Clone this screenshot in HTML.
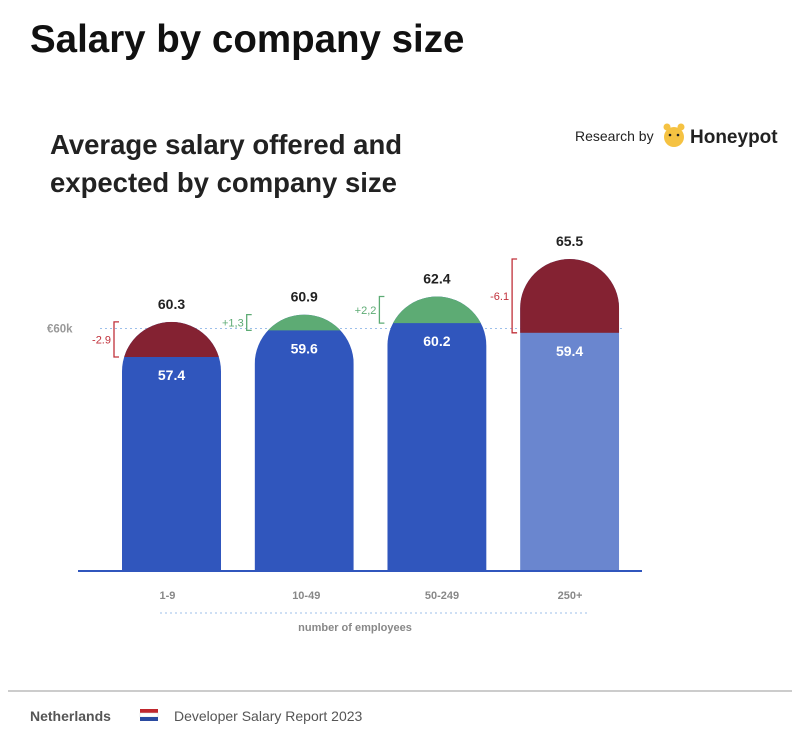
<!DOCTYPE html>
<html><head><meta charset="utf-8"><style>
body{margin:0;width:796px;height:749px;background:#fff;font-family:"Liberation Sans",sans-serif;overflow:hidden}
</style></head><body>
<svg width="796" height="749" xmlns="http://www.w3.org/2000/svg">
<text x="30" y="52" font-size="38.5" font-weight="bold" fill="#111">Salary by company size</text>
<text x="50" y="154" font-size="27.5" font-weight="bold" fill="#222">Average salary offered and</text>
<text x="50" y="192" font-size="27.5" font-weight="bold" fill="#222">expected by company size</text>
<g>
<text x="575" y="141" font-size="14" fill="#222">Research by</text>
<circle cx="674" cy="137" r="10" fill="#f5c242"/>
<circle cx="667" cy="127" r="3.5" fill="#f5c242"/><circle cx="681" cy="127" r="3.5" fill="#f5c242"/>
<circle cx="670" cy="135" r="1.3" fill="#222"/><circle cx="678" cy="135" r="1.3" fill="#222"/>
<text x="690" y="143" font-size="19" font-weight="bold" fill="#222">Honeypot</text>
</g>
<g id="plot"></g>
<line x1="8" y1="691" x2="792" y2="691" stroke="#ccc" stroke-width="2"/>
<text x="30" y="721" font-size="14" font-weight="bold" fill="#555">Netherlands</text>
<g>
<rect x="140" y="709" width="18" height="4" fill="#c0272d"/><rect x="140" y="713" width="18" height="4" fill="#fff" stroke="#ddd" stroke-width="0.5"/><rect x="140" y="717" width="18" height="4" fill="#2a4aa0"/>
</g>
<text x="174" y="721" font-size="14" fill="#555">Developer Salary Report 2023</text>
</svg>
<script>
const categories=["1-9","10-49","50-249","250+"];
const offered=[57.4,59.6,60.2,59.4];
const expected=[60.3,60.9,62.4,65.5];
const diffLabels=["-2.9","+1,3","+2,2","-6.1"];
const NS="http://www.w3.org/2000/svg";
const g=document.getElementById('plot');
const base=571, bw=99, r=49.5;
const y=v=>357-(v-57.4)*12.1;
const x=i=>122+i*132.7;
function el(t,a,p){const e=document.createElementNS(NS,t);for(const k in a)e.setAttribute(k,a[k]);(p||g).appendChild(e);return e;}
const gl=el('line',{x1:100,x2:625,y1:y(60)+3,y2:y(60)+3,stroke:'#9dbfea','stroke-dasharray':'2,3'});


const gt=el('text',{x:47,y:y(60)+7,'font-size':11.5,'font-weight':'bold',fill:'#999'});gt.textContent='€60k';


const defs=el('defs',{});
categories.forEach((c,i)=>{
 const x0=x(i), top=y(expected[i]), mid=y(offered[i]);
 const pos=diffLabels[i].trim().charAt(0)==='+';
 const hi=Math.min(top,mid), lo=Math.max(top,mid);
 const cp=el('clipPath',{id:'c'+i},defs);
 el('path',{d:`M${x0} ${base}V${hi+r}A${r} ${r} 0 0 1 ${x0+bw} ${hi+r}V${base}Z`},cp);
 const bg=el('g',{'clip-path':`url(#c${i})`});
 
 
 el('rect',{x:x0,y:hi,width:bw,height:base-hi,fill:i==3?'#6a86cf':'#3056bd'},bg);
 el('rect',{x:x0,y:hi,width:bw,height:lo-hi,fill:pos?'#5dab74':'#842232'},bg);
 const vt=el('text',{x:x0+bw/2,y:mid+23,'text-anchor':'middle','font-size':14,'font-weight':'bold',fill:'#fff'});vt.textContent=offered[i];
 
 
 const et=el('text',{x:x0+bw/2,y:top-13,'text-anchor':'middle','font-size':14,'font-weight':'bold',fill:'#222'});et.textContent=expected[i];
 
 
 const col=pos?'#5dab74':'#c0303a';
 const bx=x0-8;
 const br=el('path',{d:`M${bx+5} ${hi}H${bx}V${lo}H${bx+5}`,fill:'none',stroke:col,'stroke-width':1.3});
 
 
 const dt=el('text',{x:bx-3,y:hi+(lo-hi)/2+4,'text-anchor':'end','font-size':11,fill:col});dt.textContent=diffLabels[i];
 
 
 const ct=el('text',{x:x0+bw/2-12,y:599,'font-size':11,'font-weight':'bold',fill:'#888'});ct.textContent=c;
 
 
});
const ax=el('line',{x1:78,x2:642,y1:base,y2:base,stroke:'#3056bd','stroke-width':2});


const dl=el('line',{x1:160,x2:587,y1:613,y2:613,stroke:'#9dbfea','stroke-dasharray':'2,3'});


const xt=el('text',{x:355,y:631,'text-anchor':'middle','font-size':11,'font-weight':'bold',fill:'#888'});xt.textContent='number of employees';


</script>
</body></html>
